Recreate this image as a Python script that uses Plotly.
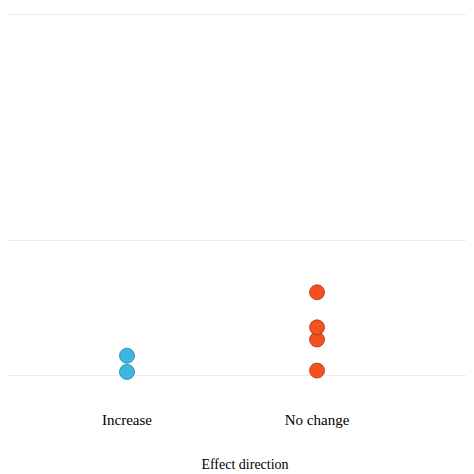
import plotly.graph_objects as go

categories = ["Increase", "No change"]
increase_y = [0.03, 0.15]
nochange_y = [0.04, 0.27, 0.36, 0.62]
grid_vals = [0, 1, 2.68]

fig = go.Figure()
fig.add_trace(go.Scatter(x=[categories[0]]*len(increase_y), y=increase_y, mode="markers",
    marker=dict(size=15, color="#3cb6e3", line=dict(color="#2a7f9f", width=0.8))))
fig.add_trace(go.Scatter(x=[categories[1]]*len(nochange_y), y=nochange_y, mode="markers",
    marker=dict(size=15, color="#f4511e", line=dict(color="#a8361a", width=0.8))))
fig.update_layout(
    width=474, height=474, showlegend=False,
    margin=dict(l=0, r=0, t=0, b=80),
    paper_bgcolor="white", plot_bgcolor="white",
    font=dict(family="Liberation Serif", size=15, color="black"),
    xaxis=dict(type="category", categoryarray=categories, range=[-0.626, 1.868],
               showgrid=False, zeroline=False, showline=False, ticks="",
               ticklabelstandoff=7,
               title=dict(text="Effect direction", font=dict(size=14), standoff=32)),
    yaxis=dict(range=[-0.193, 2.726], tickvals=grid_vals, showticklabels=False,
               gridcolor="#ebebeb", gridwidth=1, zeroline=False, showline=False),
)
fig.write_html("out.html")
